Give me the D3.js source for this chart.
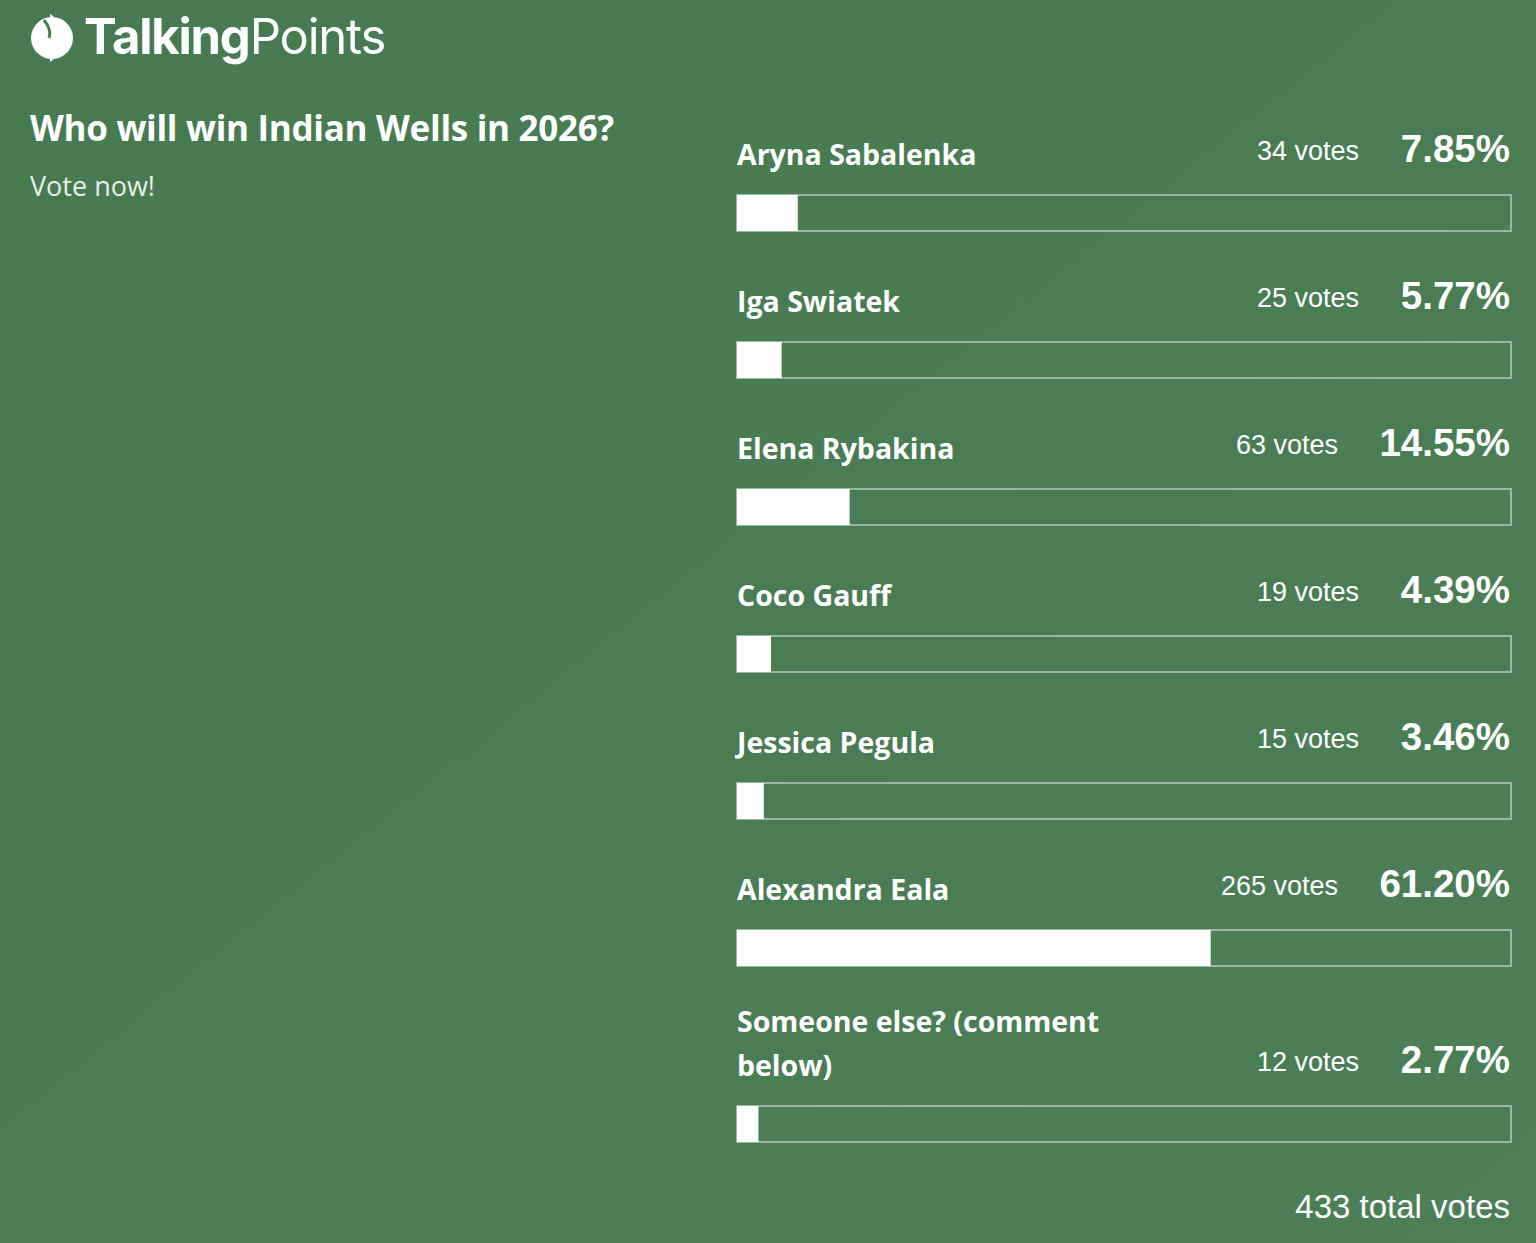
<!DOCTYPE html>
<html><head><meta charset="utf-8">
<script src="https://cdn.jsdelivr.net/npm/d3@7"></script>
<style>body{margin:0;background:#4a7c53;}svg{display:block}</style>
</head><body>
<script>
const names = [["Aryna Sabalenka"],["Iga Swiatek"],["Elena Rybakina"],["Coco Gauff"],["Jessica Pegula"],["Alexandra Eala"],["Someone else? (comment","below)"]];
const votes = [34,25,63,19,15,265,12];
const percents = [7.85,5.77,14.55,4.39,3.46,61.20,2.77];
const totalVotes = 433;

const W=1536,H=1243;
const svg=d3.select("body").append("svg").attr("width",W).attr("height",H);
const g0=svg.append("defs").append("linearGradient").attr("id","bg").attr("x1",0).attr("y1",0).attr("x2",1).attr("y2",1);
g0.append("stop").attr("offset",0).attr("stop-color","#477a50");
g0.append("stop").attr("offset",1).attr("stop-color","#4d7f56");
svg.append("rect").attr("width",W).attr("height",H).attr("fill","url(#bg)");

const F="'Open Sans', Lato, sans-serif";
const HF="'Liberation Sans', Arial, sans-serif";
svg.append("circle").attr("cx",52).attr("cy",38).attr("r",21).attr("fill","#fff");
svg.append("path").attr("d","M50,14 L54,17 L50,20 Z M50,56 L54,59 L50,62 Z").attr("fill","#fff");
svg.append("path").attr("d","M44,20 Q52,30 49,38").attr("stroke","#4a7c53").attr("stroke-width",3).attr("fill","none");
const logo=svg.append("text").attr("x",84).attr("y",54).attr("fill","#fff").attr("font-family","Inter, 'Open Sans', sans-serif").attr("font-size",49).attr("letter-spacing",-1.2);
logo.append("tspan").attr("font-weight",700).text("Talking");
logo.append("tspan").attr("font-weight",400).text("Points");

svg.append("text").attr("x",30).attr("y",141).attr("fill","#fff").attr("font-family",F).attr("font-weight",700).attr("font-size",35).attr("letter-spacing",-0.3).text("Who will win Indian Wells in 2026?");
svg.append("text").attr("x",30).attr("y",196).attr("fill","#e8efe9").attr("font-family",F).attr("font-size",27).text("Vote now!");

const x=d3.scaleLinear().domain([0,100]).range([737,1511]);
let rowTop=195;
names.forEach((n,i)=>{
  const extra=(n.length-1)*29;
  const barTop=rowTop+extra;
  n.forEach((line,j)=>{
    svg.append("text").attr("x",737).attr("y",barTop-30-(n.length-1-j)*44).attr("fill","#fff").attr("font-family",F).attr("font-weight",700).attr("font-size",28.5).text(line);
  });
  const by=barTop-33;
  svg.append("text").attr("x",1510).attr("y",by).attr("text-anchor","end").attr("fill","#fff").attr("font-family",HF).attr("font-weight",700).attr("font-size",38.5).text(percents[i].toFixed(2)+"%");
  const pw=percents[i]>=10?172:151;
  svg.append("text").attr("x",1510-pw).attr("y",by-2).attr("text-anchor","end").attr("fill","#fff").attr("font-family",HF).attr("font-size",27).text(votes[i]+" votes");
  svg.append("rect").attr("x",x(0)).attr("y",barTop).attr("width",x(100)-x(0)).attr("height",36).attr("fill","none").attr("stroke","rgba(255,255,255,0.45)").attr("stroke-width",2);
  svg.append("rect").attr("x",x(0)).attr("y",barTop).attr("width",x(percents[i])-x(0)).attr("height",36).attr("fill","#fff");
  rowTop=barTop+147;
});
svg.append("text").attr("x",1510).attr("y",1218).attr("text-anchor","end").attr("fill","#fff").attr("font-family",HF).attr("font-size",33).text(totalVotes+" total votes");
</script>
</body></html>
